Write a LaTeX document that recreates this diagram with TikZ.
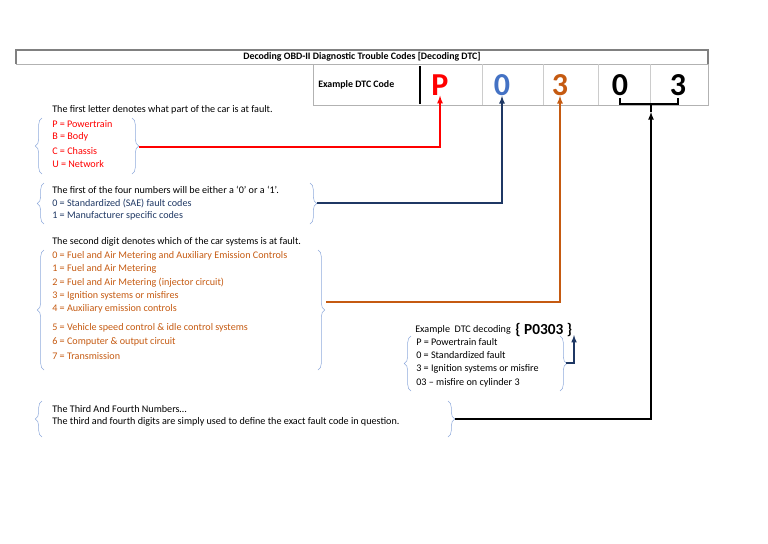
\documentclass[tikz,border=0pt]{standalone}
\usepackage{fontspec}
\setmainfont{Carlito}
\usetikzlibrary{positioning,decorations.pathreplacing}
\definecolor{dtcred}{HTML}{FF0000}
\definecolor{dtcblue}{HTML}{4472C4}
\definecolor{dtcnavy}{HTML}{1F3864}
\definecolor{dtcorange}{HTML}{C55A11}
\definecolor{bracecol}{HTML}{8FAADC}

\begin{document}
\begin{tikzpicture}[x=0.75pt,y=-0.75pt,
  txt/.style={anchor=west,inner sep=0pt,font=\fontsize{7.6}{8}\selectfont},
  digit/.style={font=\fontsize{24}{24}\selectfont\bfseries,inner sep=0pt},
  lbrace/.style={draw=bracecol,decorate,decoration={brace,amplitude=5pt,mirror}},
  rbrace/.style={draw=bracecol,decorate,decoration={brace,amplitude=5pt}},
  link/.style={line width=1pt,-latex}]
\useasboundingbox (0,0) rectangle (768,543);

% header and code table
\draw[gray,line width=0.8pt] (16,64) -- (16,50) -- (708,50) -- (708,64);
\draw[gray!60] (16,64) -- (708,64);
\node[inner sep=0pt,font=\fontsize{7.4}{8}\selectfont\bfseries] (title) at (362,57) {Decoding OBD-II Diagnostic Trouble Codes [Decoding DTC]};
\draw[gray!60] (313,64) -- (313,105) -- (708,105) -- (708,64);
\foreach \x in {482,543,598,650} \draw[gray!40] (\x,64) -- (\x,105);
\draw[line width=1pt] (420,66) -- (420,104);
\node[txt,font=\fontsize{7.4}{8}\selectfont\bfseries] (excode) at (318,85) {Example DTC Code};
\node[digit,text=dtcred] (dP) at (440,85) {P};
\node[digit,text=dtcblue] (d0) at (502,85) {0};
\node[digit,text=dtcorange] (d3) at (560,85) {3};
\node[digit] (d0b) at (620,85) {0};
\node[digit] (d3b) at (678,85) {3};
\draw[line width=0.9pt] (620,98) -- (620,104) -- (678,104) -- (678,98);
\draw[line width=0.9pt] (651,104) -- (651,112);
\coordinate (lasttwo) at (651,112);

% first letter
\node[txt] (h1) at (52,110) {The first letter denotes what part of the car is at fault.};
\node[txt,text=dtcred] (p1) at (52,124) {P = Powertrain};
\node[txt,text=dtcred] (p2) at (52,137) {B = Body};
\node[txt,text=dtcred] (p3) at (52,151) {C = Chassis};
\node[txt,text=dtcred] (p4) at (52,164) {U = Network};
\draw[lbrace] (42,118) -- (42,174);
\draw[rbrace] (132,118) -- (132,174);
\coordinate (b1) at (139,147);
\draw[link,dtcred] (b1) -| (dP.south);

% first number
\node[txt] (h2) at (52,190) {The first of the four numbers will be either a ‘0’ or a ‘1’.};
\node[txt,text=dtcnavy] (n1) at (52,203) {0 = Standardized (SAE) fault codes};
\node[txt,text=dtcnavy] (n2) at (52,216) {1 = Manufacturer specific codes};
\draw[lbrace] (44,183) -- (44,224);
\draw[rbrace] (310,183) -- (310,224);
\coordinate (b2) at (317,203);
\draw[link,dtcnavy] (b2) -| (d0.south);

% second digit
\node[txt] (h3) at (52,242) {The second digit denotes which of the car systems is at fault.};
\node[txt,text=dtcorange] (s0) at (52,256) {0 = Fuel and Air Metering and Auxiliary Emission Controls};
\node[txt,text=dtcorange] (s1) at (52,269) {1 = Fuel and Air Metering};
\node[txt,text=dtcorange] (s2) at (52,283) {2 = Fuel and Air Metering (injector circuit)};
\node[txt,text=dtcorange] (s3) at (52,296) {3 = Ignition systems or misfires};
\node[txt,text=dtcorange] (s4) at (52,309) {4 = Auxiliary emission controls};
\node[txt,text=dtcorange] (s5) at (52,328) {5 = Vehicle speed control \& idle control systems};
\node[txt,text=dtcorange] (s6) at (52,342) {6 = Computer \& output circuit};
\node[txt,text=dtcorange] (s7) at (52,356) {7 = Transmission};
\draw[lbrace] (44,250) -- (44,370);
\draw[rbrace] (318,250) -- (318,370);
\coordinate (b3) at (326,302);
\draw[link,dtcorange] (b3) -| (d3.south);

% example
\node[txt] (exh) at (415,330) {Example\ \ DTC decoding};
\node[anchor=west,inner sep=0pt,font=\fontsize{11.5}{12}\selectfont\bfseries] (exc) at ([xshift=3pt]exh.east) {\{ P0303 \}};
\node[txt] (e1) at (416,342) {P = Powertrain fault};
\node[txt] (e2) at (416,355) {0 = Standardized fault};
\node[txt] (e3) at (416,369) {3 = Ignition systems or misfire};
\node[txt] (e4) at (416,383) {03 – misfire on cylinder 3};
\draw[lbrace] (411,336) -- (411,391);
\draw[rbrace] (560,336) -- (560,391);
\coordinate (b4) at (566,363);
\draw[dtcnavy,line width=0.9pt,-latex] (b4) -| (574,335);

% third and fourth
\node[txt] (t1) at (52,409) {The Third And Fourth Numbers…};
\node[txt] (t2) at (52,422) {The third and fourth digits are simply used to define the exact fault code in question.};
\draw[lbrace] (42,401) -- (42,437);
\draw[rbrace] (448,401) -- (448,437);
\coordinate (b5) at (455,419);
\draw[link,black] (b5) -| (lasttwo);
\end{tikzpicture}
\end{document}
